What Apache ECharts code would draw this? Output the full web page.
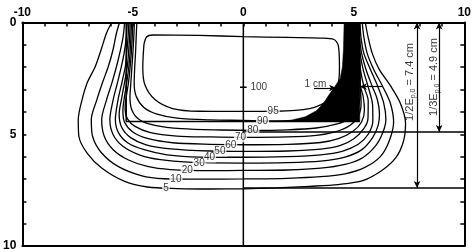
<!DOCTYPE html>
<html><head><meta charset="utf-8">
<script src="https://cdn.jsdelivr.net/npm/echarts@6/dist/echarts.min.js"></script>
<style>html,body{margin:0;padding:0;background:#fff}#c{width:474px;height:252px}</style>
</head><body><div id="c"></div>
<script>
// Isodose contours: [lateral position x (cm), depth d (cm)]
const iso5 = [[-5.96,0],[-6.19,0.47],[-6.44,1.23],[-6.7,1.97],[-7.07,2.71],[-7.3,3.46],[-7.47,4.35],[-7.44,5.1],[-7.07,5.84],[-6.41,6.51],[-5.37,7.11],[-4.34,7.36],[-3.0,7.43],[-1.5,7.45],[0,7.44],[1.5,7.4],[3.0,7.33],[4.3,7.25],[5.4,7.08],[6.3,6.6],[6.9,6.05],[7.25,5.3],[7.34,4.5],[7.1,3.6],[6.67,2.85],[6.15,2.1],[5.83,1.37],[5.64,0.63],[5.52,0]];
const iso10 = [[-5.6,0],[-5.74,0.47],[-5.9,1.23],[-6.11,1.97],[-6.38,2.71],[-6.63,3.46],[-6.88,4.35],[-6.82,5.1],[-6.41,5.84],[-5.67,6.44],[-4.63,6.85],[-3.6,6.99],[-2,7.01],[0,7.0],[2,6.97],[3.5,6.9],[4.6,6.77],[5.5,6.48],[6.2,6.0],[6.6,5.3],[6.8,4.45],[6.65,3.6],[6.3,2.85],[5.9,2.1],[5.6,1.37],[5.45,0.63],[5.38,0]];
const iso20 = [[-5.37,0],[-5.45,0.7],[-5.6,1.4],[-5.74,1.97],[-5.95,2.71],[-6.19,3.46],[-6.41,4.35],[-6.29,5.1],[-5.89,5.69],[-5.22,6.14],[-4.34,6.44],[-3.3,6.58],[-1.5,6.63],[0,6.62],[2,6.6],[3.5,6.52],[4.6,6.35],[5.4,6.05],[6.0,5.5],[6.32,4.9],[6.45,4.35],[6.35,3.6],[6.08,2.85],[5.75,2.1],[5.45,1.37],[5.32,0.63],[5.28,0]];
const iso30 = [[-5.25,0],[-5.3,0.7],[-5.4,1.4],[-5.52,1.97],[-5.7,2.71],[-5.89,3.46],[-6.04,4.35],[-5.89,5.02],[-5.45,5.54],[-4.71,5.92],[-3.75,6.14],[-2.5,6.25],[0,6.29],[2,6.27],[3.5,6.2],[4.6,6.02],[5.35,5.7],[5.85,5.15],[6.1,4.6],[6.16,4.1],[6.05,3.4],[5.83,2.85],[5.55,2.1],[5.35,1.37],[5.25,0.63],[5.22,0]];
const iso40 = [[-5.18,0],[-5.22,0.7],[-5.28,1.4],[-5.34,1.97],[-5.5,2.71],[-5.67,3.46],[-5.79,4.35],[-5.64,4.95],[-5.22,5.39],[-4.49,5.69],[-3.45,5.92],[-2,6.02],[0,6.03],[2,6.0],[3.5,5.92],[4.5,5.75],[5.2,5.45],[5.65,5.0],[5.86,4.4],[5.85,3.7],[5.64,2.85],[5.42,2.1],[5.28,1.37],[5.2,0.63],[5.18,0]];
const iso50 = [[-5.12,0],[-5.15,0.7],[-5.2,1.4],[-5.25,1.97],[-5.38,2.71],[-5.52,3.46],[-5.62,4.1],[-5.5,4.7],[-5.1,5.15],[-4.4,5.47],[-3.3,5.65],[-1.5,5.75],[0,5.77],[2,5.75],[3.5,5.67],[4.4,5.5],[5.0,5.2],[5.45,4.75],[5.64,4.3],[5.65,3.5],[5.45,2.85],[5.3,2.1],[5.22,1.37],[5.16,0.63],[5.14,0]];
const iso60 = [[-5.06,0],[-5.09,0.7],[-5.13,1.4],[-5.18,1.97],[-5.28,2.71],[-5.4,3.46],[-5.45,3.95],[-5.38,4.45],[-5.0,4.9],[-4.3,5.2],[-3.2,5.38],[-1.5,5.45],[0,5.47],[2,5.45],[3.5,5.37],[4.3,5.2],[4.95,4.88],[5.35,4.45],[5.48,3.9],[5.42,3.3],[5.3,2.85],[5.25,2.1],[5.2,1.37],[5.14,0.63],[5.1,0]];
const iso70 = [[-5.0,0],[-5.03,0.7],[-5.07,1.4],[-5.12,1.97],[-5.2,2.71],[-5.32,3.46],[-5.35,3.9],[-5.25,4.3],[-4.9,4.65],[-4.2,4.93],[-3.0,5.08],[-1.5,5.12],[0,5.14],[2,5.12],[3.3,5.05],[4.2,4.88],[4.8,4.62],[5.2,4.2],[5.33,3.6],[5.29,2.85],[5.27,2.1],[5.24,1.37],[5.2,0.63],[5.18,0]];
const iso80 = [[-4.93,0],[-4.96,0.7],[-5.0,1.4],[-5.05,2.1],[-5.1,2.85],[-5.13,3.3],[-5.05,3.9],[-4.7,4.35],[-4.0,4.6],[-2.8,4.75],[-1.0,4.81],[0.5,4.83],[2,4.8],[3.3,4.72],[4.2,4.55],[4.8,4.3],[5.15,3.9],[5.28,3.3],[5.28,2.5],[5.27,1.5],[5.26,0.7],[5.25,0]];
const iso90 = [[-4.82,0],[-4.85,0.7],[-4.88,1.4],[-4.92,2.1],[-4.94,2.7],[-4.85,3.3],[-4.5,3.8],[-3.9,4.1],[-3.0,4.28],[-1.5,4.36],[0,4.38],[1,4.4],[2.5,4.38],[3.6,4.3],[4.4,4.15],[4.9,3.9],[5.15,3.4],[5.2,2.5],[5.2,1.5],[5.2,0.7],[5.2,0]];
const iso95 = [[-4.5,1.0],[-4.38,0.65],[-4.1,0.56],[-2,0.58],[0,0.63],[2,0.67],[3.5,0.7],[4.1,0.76],[4.3,1.05],[4.35,2.0],[4.3,2.7],[4.1,3.2],[3.75,3.55],[3.0,3.85],[1.5,3.97],[0,3.98],[-2,3.97],[-3.2,3.85],[-4.0,3.45],[-4.45,2.8],[-4.55,2.0],[-4.5,1.0]];

// Contour labels
const labelText = ['95','90','80','70','60','50','40','30','20','10','5'];
const labelX = [1.35, 0.87, 0.43, -0.13, -0.57, -1.06, -1.53, -2.0, -2.54, -3.05, -3.5];
const labelD = [3.98, 4.40, 4.83, 5.14, 5.47, 5.77, 6.04, 6.29, 6.62, 7.0, 7.43];

// Black high-dose region outline
const blackX = [4.56, 5.27, 5.27, 1.7, 2.2, 2.8, 3.3, 3.6, 3.9, 4.15, 4.38, 4.48, 4.53, 4.56];
const blackD = [0, 0, 4.43, 4.43, 4.36, 4.22, 3.95, 3.65, 3.2, 2.85, 2.5, 2.0, 1.2, 0];

// Reference lines
const boxLine = [[-5.3,0],[-5.3,4.43],[5.27,4.43]];
const centerLine = [[0,0],[0,10]];
const line49 = [[0,4.9],[10,4.9]];
const line74 = [[0,7.4],[10,7.4]];
const dmaxTick = [[-0.15,2.9],[0.15,2.9]];
const arrowHalf = [[7.86,0],[7.86,7.4]];
const arrowThird = [[8.86,0],[8.86,4.9]];
const arrowCmLeft = [[3.2,2.93],[4.2,2.93]];
const arrowCmRight = [[6.3,2.87],[5.27,2.87]];

const FONT = 'Liberation Sans, Arial, sans-serif';
const chart = echarts.init(document.getElementById('c'), null, {renderer:'canvas'});

const contours = [iso5, iso10, iso20, iso30, iso40, iso50, iso60, iso70, iso80, iso90, iso95];
const series = [];
contours.forEach(c => series.push({
  type:'line', data:c, showSymbol:false, smooth:0.3, silent:true, z:2,
  lineStyle:{color:'#000', width:1.3}
}));
[boxLine, centerLine, line49, line74, dmaxTick].forEach(l => series.push({
  type:'line', data:l, showSymbol:false, silent:true, z:3,
  lineStyle:{color:'#000', width:1.5}
}));
series.push({
  type:'custom', coordinateSystem:'cartesian2d', z:5, silent:true,
  data:[[0,0]],
  renderItem:(params, api) => {
    const pts = blackX.map((x,i) => api.coord([x, blackD[i]]));
    return {type:'polygon', shape:{points:pts}, style:{fill:'#000', stroke:'#000', lineWidth:0.5}};
  }
});
function arrowLine(a, syms){
  return {type:'line', data:[], silent:true, z:6,
    markLine:{silent:true, animation:false, label:{show:false}, symbol:syms, symbolSize:[5,7],
      lineStyle:{type:'solid', color:'#000', width:1.2},
      data:[[{coord:a[0]},{coord:a[1]}]]}};
}
series.push(arrowLine(arrowHalf, ['arrow','arrow']));
series.push(arrowLine(arrowThird, ['arrow','arrow']));
series.push(arrowLine(arrowCmLeft, ['none','arrow']));
series.push(arrowLine(arrowCmRight, ['none','arrow']));

series.push({
  type:'scatter', symbolSize:1, itemStyle:{color:'rgba(0,0,0,0)'}, silent:true, z:10,
  data: labelText.map((t,i) => [labelX[i], labelD[i], t]),
  label:{show:true, position:'inside', formatter:p=>p.value[2], color:'#000', fontSize:10,
    fontFamily:FONT, backgroundColor:'#fff', padding:[0,1]}
});
series.push({
  type:'scatter', symbolSize:1, itemStyle:{color:'rgba(0,0,0,0)'}, silent:true, z:10,
  data:[[0.7,2.9,'100'],[3.26,2.75,'1 cm']],
  label:{show:true, position:'inside', formatter:p=>p.value[2], color:'#000', fontSize:10, fontFamily:FONT}
});
series.push({
  type:'scatter', symbolSize:1, itemStyle:{color:'rgba(0,0,0,0)'}, silent:true, z:10,
  data:[[7.55,2.66,'1/2E','7.4'],[8.63,2.44,'1/3E','4.9']],
  label:{show:true, position:'inside', rotate:90,
    formatter:p=>'{a|'+p.value[2]+'}{s|p,0}{a| = '+p.value[3]+' cm}',
    rich:{a:{fontSize:11, color:'#000', fontFamily:FONT, lineHeight:13},
          s:{fontSize:7, color:'#000', fontFamily:FONT, lineHeight:13, verticalAlign:'bottom'}}}
});

const axisLineStyle = {show:true, onZero:false, lineStyle:{color:'#000', width:2}};
chart.setOption({
  animation:false,
  grid:{left:19, right:4, top:22.5, bottom:5.5, containLabel:false},
  xAxis:[
    {type:'value', position:'top', min:-10, max:10, interval:1,
     axisLine:axisLineStyle, splitLine:{show:false},
     axisTick:{show:true, inside:true, length:4, lineStyle:{color:'#000', width:1.5}},
     axisLabel:{show:true, margin:4, color:'#000', fontSize:12, fontWeight:'bold', fontFamily:FONT,
       showMinLabel:true, showMaxLabel:true,
       formatter:v => (v % 5 === 0 ? String(v) : '')}},
    {type:'value', position:'bottom', min:-10, max:10, interval:1,
     axisLine:axisLineStyle, splitLine:{show:false}, axisTick:{show:false}, axisLabel:{show:false}}
  ],
  yAxis:[
    {type:'value', position:'left', inverse:true, min:0, max:10, interval:1,
     axisLine:axisLineStyle, splitLine:{show:false},
     axisTick:{show:true, inside:true, length:4, lineStyle:{color:'#000', width:1.5}},
     axisLabel:{show:true, margin:6, color:'#000', fontSize:12, fontWeight:'bold', fontFamily:FONT,
       showMinLabel:true, showMaxLabel:true,
       formatter:v => (v % 5 === 0 ? String(v) : '')}},
    {type:'value', position:'right', inverse:true, min:0, max:10, interval:1,
     axisLine:axisLineStyle, splitLine:{show:false},
     axisTick:{show:true, inside:true, length:4, lineStyle:{color:'#000', width:1.5}},
     axisLabel:{show:false}}
  ],
  series: series
});
</script></body></html>
